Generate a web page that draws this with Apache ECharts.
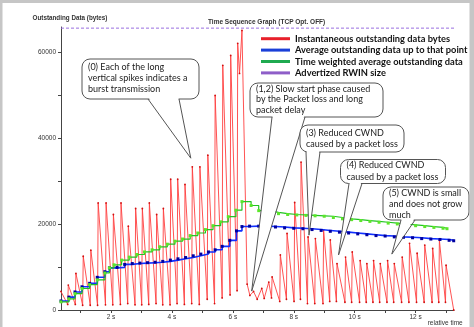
<!DOCTYPE html>
<html>
<head>
<meta charset="utf-8">
<script src="https://cdn.jsdelivr.net/npm/echarts@6/dist/echarts.min.js"></script>
<style>
  html, body { margin: 0; padding: 0; background: #fff; }
  #chart { width: 474px; height: 327px; }
</style>
</head>
<body>
<div id="chart"></div>
<script>
// TCP time-sequence trace: outstanding bytes over time, with averages and RWIN.

const xTickValues = [1, 2, 3, 4, 5, 6, 7, 8, 9, 10, 11, 12, 13];
const xLabelValues = [2, 4, 6, 8, 10, 12];
const yTickValues = [0, 10000, 20000, 30000, 40000, 50000, 60000];
const yLabelValues = [0, 20000, 40000, 60000];

const seriesNames = [
  'Instantaneous outstanding data bytes',
  'Average outstanding data up to that point',
  'Time weighted average outstanding data',
  'Advertized RWIN size'
];

// Instantaneous outstanding bytes (vertices of the burst trace, seconds / bytes)
const instTime = [
  0.36, 0.58, 0.60, 0.83, 0.85, 1.07, 1.09, 1.32, 1.34, 1.56, 1.58,
  1.82, 1.84, 2.06, 2.08, 2.31, 2.33, 2.55, 2.57, 2.79, 2.81,
  3.01, 3.03, 3.24, 3.26, 3.48, 3.50, 3.70, 3.72, 3.94, 3.96,
  4.17, 4.19, 4.41, 4.43, 4.65, 4.67, 4.90, 4.92, 5.16, 5.18,
  5.40, 5.42, 5.65, 5.67, 5.91, 5.93, 6.14, 6.16, 6.22, 6.30,
  6.47, 6.56, 6.68, 6.80, 6.95, 7.03, 7.18, 7.27, 7.29, 7.54, 7.56,
  7.76, 7.78, 8.01, 8.03, 8.22, 8.24, 8.45, 8.47, 8.69, 8.71,
  8.96, 8.98, 9.18, 9.20, 9.40, 9.42, 9.68, 9.70, 9.90, 9.92,
  10.16, 10.18, 10.38, 10.40, 10.60, 10.62, 10.82, 10.84, 11.06, 11.08,
  11.28, 11.30, 11.54, 11.56, 11.78, 11.80, 12.03, 12.05, 12.28, 12.30,
  12.54, 12.56, 12.76, 12.78, 12.98, 13.00, 13.25
];
const instBytes = [
  4300, 1300, 5800, 1300, 8500, 1100, 12500, 1100, 13900, 1100, 24900,
  1200, 24900, 1200, 22200, 1300, 24900, 1500, 19500, 1200, 23600,
  1200, 23600, 1300, 24900, 1500, 22200, 1200, 23600, 1200, 30400,
  1500, 30400, 1300, 29200, 1500, 33300, 1300, 33300, 2500, 36000,
  1500, 49900, 2800, 56900, 3500, 59200, 4500, 62000, 55000, 65000,
  6000, 3400, 4300, 2500, 5000, 2700, 6500, 2800, 7700, 2000, 12800,
  2500, 17800, 2000, 25000, 2500, 34400, 1500, 17000, 1500, 16600,
  1500, 18600, 2000, 16300, 2000, 10800, 1800, 12300, 1800, 13500,
  1800, 11500, 1800, 10800, 1800, 11500, 1800, 10800, 1800, 11500,
  1800, 10800, 1800, 12300, 1800, 15500, 1800, 13200, 1800, 15100,
  1800, 14300, 1800, 16300, 1800, 10400, 0
];

// Running average of outstanding bytes
const avgTime = [
  0.36, 0.62, 0.82, 1.05, 1.30, 1.55, 1.80, 1.95, 2.20, 2.45, 2.70, 2.95,
  3.20, 3.45, 3.70, 3.95, 4.20, 4.45, 4.70, 4.95, 5.20, 5.42, 5.65, 5.90,
  6.12, 6.30, 6.55, 6.85, 7.10, 7.40, 7.70, 8.00, 8.30, 8.60, 8.90, 9.20,
  9.50, 9.80, 10.10, 10.40, 10.70, 11.00, 11.30, 11.60, 11.90, 12.20, 12.50,
  12.80, 13.10, 13.25
];
const avgBytes = [
  2100, 3000, 4200, 5400, 6200, 7600, 8900, 9800, 9900, 10600, 10800, 10900,
  11000, 11100, 11300, 11600, 11900, 12200, 12600, 13000, 13500, 14000, 14800, 16200,
  18400, 19400, 19500, 19500, 19400, 19300, 19100, 19000, 18900, 18700, 18500, 18300,
  18100, 17900, 17700, 17500, 17300, 17200, 17000, 16900, 16800, 16600, 16500,
  16400, 16200, 16100
];

// Time-weighted average of outstanding bytes
const twaTime = [
  0.36, 0.62, 0.82, 1.05, 1.30, 1.55, 1.80, 1.95, 2.10, 2.35, 2.60, 2.85,
  3.10, 3.35, 3.60, 3.85, 4.10, 4.35, 4.60, 4.85, 5.10, 5.35, 5.60, 5.85,
  6.10, 6.30, 6.60, 6.85, 7.20, 7.50, 7.80, 8.10, 8.40, 8.70, 9.00, 9.30,
  9.60, 9.90, 10.20, 10.50, 10.80, 11.10, 11.40, 11.70, 12.00, 12.30, 12.60,
  12.90, 13.03
];
const twaBytes = [
  1900, 2600, 3800, 5000, 5900, 7000, 8600, 9800, 10500, 11600, 12300, 12900,
  13500, 14000, 14700, 15300, 16000, 16500, 17300, 17900, 18700, 19600, 20500, 21700,
  23200, 25200, 24300, 23100, 22700, 22400, 22200, 22100, 22000, 21900, 21800, 21500,
  21200, 21000, 20800, 20600, 20400, 20200, 20000, 19800, 19600, 19400, 19200,
  19000, 18900
];

// Advertised receive window
const rwinTime = [0.36, 13.26];
const rwinBytes = [65535, 65535];

const pairs = (xs, ys) => xs.map((x, i) => [x, ys[i]]);

const axisFont = { fontFamily: 'Liberation Sans', fontSize: 6.5, color: '#333' };

const chart = echarts.init(document.getElementById('chart'), null, { renderer: 'canvas' });

chart.setOption({
  animation: false,
  backgroundColor: '#fff',
  title: {
    text: 'Time Sequence Graph (TCP Opt. OFF)',
    left: 203, top: 14,
    textStyle: { fontFamily: 'Liberation Sans', fontSize: 6.5, fontWeight: 'bold', color: '#333' }
  },
  legend: {
    orient: 'vertical',
    left: 256, top: 28,
    itemWidth: 29, itemHeight: 3, itemGap: 0,
    icon: 'rect',
    textStyle: { fontFamily: 'Lato', fontWeight: 'bold', fontSize: 9.3, color: '#111', lineHeight: 11.4 },
    data: [
      { name: seriesNames[0], itemStyle: { color: '#e8202a' } },
      { name: seriesNames[1], itemStyle: { color: '#1a3fd8' } },
      { name: seriesNames[2], itemStyle: { color: '#1faa50' } },
      { name: seriesNames[3], itemStyle: { color: '#8e5ec8' } }
    ]
  },
  grid: { left: 61, right: 20, top: 27, bottom: 17, containLabel: false },
  xAxis: {
    type: 'value', min: 0.36, max: 13.26,
    name: 'relative time', nameLocation: 'end', nameGap: -3,
    nameTextStyle: Object.assign({}, axisFont, { align: 'right', verticalAlign: 'top', padding: [10, 0, 0, 0] }),
    axisLine: { show: true, lineStyle: { color: '#444', width: 1 } },
    axisTick: { show: true, length: 3, customValues: xTickValues, lineStyle: { color: '#444' } },
    axisLabel: Object.assign({ customValues: xLabelValues, margin: 4, formatter: v => v + ' s' }, axisFont),
    splitLine: { show: false }
  },
  yAxis: {
    type: 'value', min: 0, max: 65800,
    name: 'Outstanding Data (bytes)', nameLocation: 'end', nameGap: 6,
    nameTextStyle: Object.assign({}, axisFont, { fontWeight: 'bold', fontSize: 6.3, align: 'center', padding: [0, 0, 0, 18] }),
    axisLine: { show: true, lineStyle: { color: '#444', width: 1 } },
    axisTick: { show: true, length: 3, customValues: yTickValues, lineStyle: { color: '#444' } },
    axisLabel: Object.assign({ customValues: yLabelValues, margin: 5, formatter: v => String(v) }, axisFont),
    splitLine: { show: false }
  },
  series: [
    {
      name: seriesNames[0], type: 'line', data: pairs(instTime, instBytes),
      symbol: 'circle', symbolSize: 1.8, showSymbol: true,
      lineStyle: { color: '#ff4040', width: 0.9 },
      itemStyle: { color: '#d01010' },
      z: 2, silent: true
    },
    {
      name: seriesNames[1], type: 'line', step: 'end', data: pairs(avgTime, avgBytes),
      symbol: 'rect', symbolSize: 3,
      lineStyle: { color: '#1030ff', width: 1.6 },
      itemStyle: { color: '#0000a0' },
      z: 3, silent: true
    },
    {
      name: seriesNames[2], type: 'line', step: 'end', data: pairs(twaTime, twaBytes),
      symbol: 'rect', symbolSize: 3,
      lineStyle: { color: '#22c422', width: 1.2 },
      itemStyle: { color: '#5ce62a' },
      z: 3, silent: true
    },
    {
      name: seriesNames[3], type: 'line', data: pairs(rwinTime, rwinBytes),
      symbol: 'none',
      lineStyle: { color: '#9a6ee0', width: 1, type: [3, 2] },
      z: 3, silent: true
    }
  ]
});

// Speech-bubble annotations; each tail points at a data location [time, bytes].
const callouts = [
  { lines: ['(0) Each of the long', 'vertical spikes indicates a', 'burst transmission'],
    box: [82, 59, 117, 40], textTop: 61, lineHeight: 11.3, base: [148, 179], at: [4.62, 35300] },
  { lines: ['(1,2) Slow start phase caused', 'by the Packet loss and long', 'packet delay'],
    box: [250, 83, 133, 34], textTop: 83.5, lineHeight: 10.5, base: [272, 305], at: [6.62, 4400] },
  { lines: ['(3) Reduced CWND', 'caused by a packet loss'],
    box: [300, 125, 104, 27], textTop: 127, lineHeight: 11.3, base: [306, 320], at: [8.50, 17400] },
  { lines: ['(4) Reduced CWND', 'caused by a packet loss'],
    box: [340.5, 159.5, 105, 24], textTop: 159.5, lineHeight: 11.8, base: [349, 362], at: [9.47, 12800] },
  { lines: ['(5) CWND is small', 'and does not grow', 'much'],
    box: [383, 187, 86, 33], textTop: 187.2, lineHeight: 11.1, base: [401, 415], at: [11.22, 13000] }
];

const elements = [];
// light-grey frame around the figure
elements.push({ type: 'rect', z: 120, shape: { x: 0, y: 0, width: 474, height: 3 }, style: { fill: '#c6c6c6' } });
elements.push({ type: 'rect', z: 120, shape: { x: 0, y: 0, width: 2.5, height: 327 }, style: { fill: '#c6c6c6' } });
elements.push({ type: 'rect', z: 120, shape: { x: 469.5, y: 0, width: 4.5, height: 327 }, style: { fill: '#c6c6c6' } });

callouts.forEach((c, k) => {
  const [bx, by, bw, bh] = c.box;
  const tip = chart.convertToPixel({ xAxisIndex: 0, yAxisIndex: 0 }, c.at);
  const bottom = by + bh;
  const z = 100 + k * 4;
  elements.push({ type: 'rect', z: z, shape: { x: bx, y: by, width: bw, height: bh, r: 8 },
    style: { fill: '#fff', stroke: '#555', lineWidth: 1 } });
  elements.push({ type: 'polygon', z: z + 1,
    shape: { points: [[c.base[0] + 0.6, bottom - 1.5], [c.base[1] - 0.6, bottom - 1.5], tip] },
    style: { fill: '#fff' } });
  elements.push({ type: 'polyline', z: z + 2,
    shape: { points: [[c.base[0], bottom], tip, [c.base[1], bottom]] },
    style: { stroke: '#555', lineWidth: 1, fill: null } });
  elements.push({ type: 'text', z: z + 3,
    style: { text: c.lines.join('\n'), x: bx + 6, y: c.textTop,
      font: '9px Lato', fill: '#222', lineHeight: c.lineHeight } });
});

chart.setOption({ graphic: { elements: elements } });
</script>
</body>
</html>
